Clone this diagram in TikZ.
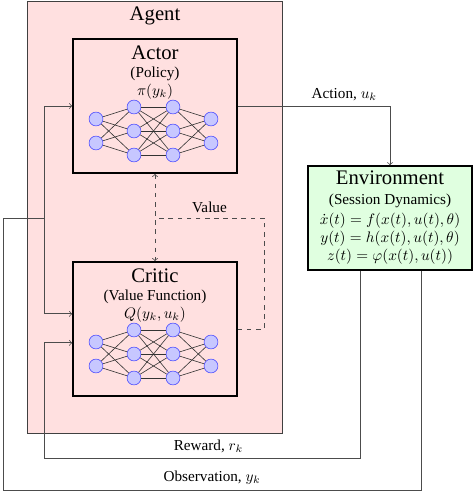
\documentclass[tikz,border=0pt]{standalone}
\usepackage{fontspec}
\setmainfont{Liberation Serif}
\usetikzlibrary{positioning}

\newcommand{\boxtitle}{\fontsize{13.6}{16}\selectfont}

% small network: #1 prefix, #2 x centre, #3 y centre
\newcommand{\nnet}[3]{%
\foreach \i/\dy in {1/-12,2/12} {
\node[neuron] (#1-1-\i) at ({#2-58},{#3+\dy}) {};
\node[neuron] (#1-4-\i) at ({#2+57},{#3+\dy}) {};
}
\foreach \i/\dy in {1/-24,2/0,3/24} {
\node[neuron] (#1-2-\i) at ({#2-20},{#3+\dy}) {};
\node[neuron] (#1-3-\i) at ({#2+19},{#3+\dy}) {};
}
\foreach \i in {1,2}
\foreach \j in {1,2,3} {
\draw[synapse] (#1-1-\i) -- (#1-2-\j);
\draw[synapse] (#1-3-\j) -- (#1-4-\i);
}
\foreach \i in {1,2,3}
\foreach \j in {1,2,3} {
\draw[synapse] (#1-2-\i) -- (#1-3-\j);
}
}

\begin{document}
\begin{tikzpicture}[x=0.0231cm,y=-0.0231cm]
% Styles
\tikzset{
agentbox/.style={draw=black!75,line width=0.6pt,fill=red!12,minimum width=5.89cm,minimum height=9.98cm,inner sep=0pt},
netbox/.style={draw=black,line width=1pt,minimum width=3.79cm,minimum height=3.1cm,inner sep=0pt},
envbox/.style={draw=black,line width=1pt,fill=green!12,minimum width=3.79cm,minimum height=2.4cm,inner sep=0pt,align=center},
neuron/.style={circle,draw=blue!70,fill=blue!22,minimum size=0.32cm,inner sep=0pt},
synapse/.style={draw=black!80,line width=0.4pt},
wire/.style={draw=black!70,line width=0.5pt},
link/.style={wire,->},
valueline/.style={draw=black!70,line width=0.5pt,dashed}
}
\useasboundingbox (0,0) rectangle (474,492);

% the agent
\node[agentbox] (agent) at (154.5,217) {};
\node (agentlbl) at (155,16) {\boxtitle Agent};

% observation and reward wires
\coordinate (obsbot) at (3,490);
\coordinate (obsleft) at (3,218);
\coordinate (split) at (44,218);
\coordinate (rwbot) at (44,458);

\node[envbox] (env) at (390,218) {{\boxtitle Environment}\\[1pt]
(Session Dynamics)\\[1pt]
$\dot{x}(t)=f(x(t),u(t),\theta)$\\
$y(t)=h(x(t),u(t),\theta)$\\
$z(t)=\varphi(x(t),u(t))$};

\node[netbox] (actor) at (155,106) {};
\node[netbox] (critic) at (155,329) {};

\draw[wire] ([xshift=0.72cm]env.south) |- node[pos=0.75,above]{Observation, $y_k$} (obsbot) -- (obsleft) -- (split);
\draw[link] (split) |- (actor.west);
\draw[link] (split) |- ([yshift=0.35cm]critic.west);
\draw[link] ([xshift=-0.69cm]env.south) |- node[pos=0.74,above]{Reward, $r_k$} (rwbot) |- ([yshift=-0.32cm]critic.west);

% action
\draw[link] (actor.east) -| node[pos=0.35,above]{Action, $u_k$} (env.north);

% value
\coordinate (vright) at (264,218);
\coordinate (vjoin) at (155,218);
\draw[valueline,<->] (actor.south) -- (critic.north);
\draw[valueline] (critic.east) -| (vright) -- node[above]{Value} (vjoin);

% box texts
\node[anchor=north,align=center,inner sep=0pt] (actortxt) at ([yshift=-0.16cm]actor.north) {{\boxtitle Actor}\\(Policy)\\$\pi(y_k)$};
\node[anchor=north,align=center,inner sep=0pt] (critictxt) at ([yshift=-0.16cm]critic.north) {{\boxtitle Critic}\\(Value Function)\\$Q(y_k,u_k)$};

% networks
\nnet{an}{154}{131}
\nnet{cn}{154}{354}

\end{tikzpicture}
\end{document}
